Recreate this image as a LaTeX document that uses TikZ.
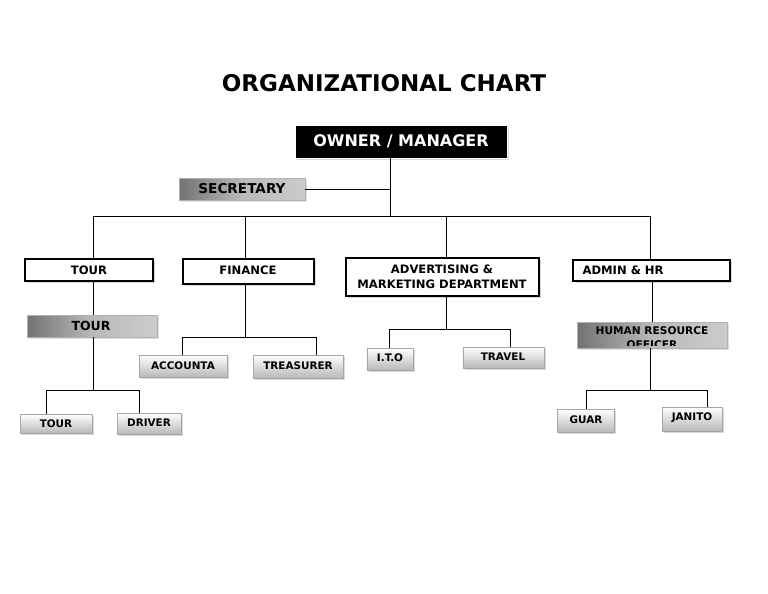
\documentclass[tikz,border=0pt]{standalone}
\usepackage{fontspec}
\setmainfont{DejaVu Sans}
\usetikzlibrary{shadows}
\begin{document}
\begin{tikzpicture}[x=1pt,y=-1pt,
  lbl/.style={font=\bfseries\fontsize{11.6}{14.5}\selectfont},
  sml/.style={font=\bfseries\fontsize{10.4}{12}\selectfont},
  whitebox/.style={draw=black,line width=1.8pt,fill=white,drop shadow={shadow xshift=2pt,shadow yshift=-2pt,fill=gray!60}},
  darkbox/.style={draw=gray!60,line width=0.5pt,left color=gray!90!black,right color=gray!40,middle color=gray!55,drop shadow={shadow xshift=2pt,shadow yshift=-2pt,fill=gray!50}},
  lightbox/.style={draw=gray!70,line width=0.5pt,top color=white,bottom color=gray!55,drop shadow={shadow xshift=2pt,shadow yshift=-2pt,fill=gray!60}},
  conn/.style={line width=0.7pt}]
\useasboundingbox (0,0) rectangle (768,594);
\node (title) at (384,83) {\bfseries\fontsize{23}{26}\selectfont ORGANIZATIONAL CHART};
% boxes
\draw[fill=black,draw=white,line width=1pt,drop shadow={shadow xshift=2pt,shadow yshift=-2pt,fill=gray!60}] (295,125) rectangle (507,158);
\node[text=white,font=\bfseries\fontsize{16}{18}\selectfont] (own) at (401,141.5) {OWNER / MANAGER};
\coordinate (ownb) at (390,158);
\draw[darkbox] (179,178) rectangle (305,200);
\node[font=\bfseries\fontsize{13.6}{15}\selectfont] (sec) at (242,189) {SECRETARY};
\coordinate (secr) at (305,189);
\draw[whitebox] (25,259) rectangle (153,281);
\node[lbl] (tour) at (89,270) {TOUR};
\draw[whitebox] (183,259) rectangle (314,284);
\node[lbl] (fin) at (248,270) {FINANCE};
\draw[whitebox] (346,258) rectangle (539,296);
\node[lbl,align=center] (adv) at (442,277) {ADVERTISING \&\\MARKETING DEPARTMENT};
\draw[whitebox] (573,260) rectangle (730,281);
\node[lbl,anchor=west] (adm) at (579,270.5) {ADMIN \& HR};
\draw[darkbox] (27,315) rectangle (157,337);
\node[font=\bfseries\fontsize{12.5}{14}\selectfont] (tour2) at (91,326) {TOUR};
\draw[darkbox] (577,322) rectangle (727,348);
\begin{scope}
\clip (577,322) rectangle (727,345);
\node[align=center,font=\bfseries\fontsize{10.6}{14}\selectfont,anchor=north] (hr) at (652,323.5) {HUMAN RESOURCE\\OFFICER};
\end{scope}
\draw[lightbox] (20,414) rectangle (92,433); \node[sml] (t3) at (56,424) {TOUR};
\draw[lightbox] (117,413) rectangle (181,434); \node[sml] (drv) at (149,423) {DRIVER};
\draw[lightbox] (139,355) rectangle (227,377); \node[sml] (acc) at (183,365.5) {ACCOUNTA};
\draw[lightbox] (253,355) rectangle (343,378); \node[sml] (tre) at (298,365.5) {TREASURER};
\draw[lightbox] (367,348) rectangle (413,370); \node[sml] (ito) at (390,358) {I.T.O};
\draw[lightbox] (463,347) rectangle (544,368); \node[sml] (trv) at (503,357) {TRAVEL};
\draw[lightbox] (557,409) rectangle (614,432); \node[sml] (gua) at (586,419.5) {GUAR};
\draw[lightbox] (662,407) rectangle (722,431); \node[sml] (jan) at (692,418) {JANITO};
% connectors
\draw[conn] (ownb) -- (390,216);
\draw[conn] (secr) -- (390,189);
\draw[conn] (93,259) -- (93,216) -- (650,216) -- (650,260);
\draw[conn] (245,216) -- (245,259);
\draw[conn] (446,216) -- (446,258);
\draw[conn] (93,281) -- (93,315);
\draw[conn] (93,337) -- (93,390);
\draw[conn] (46,414) -- (46,390) -- (139,390) -- (139,413);
\draw[conn] (245,284) -- (245,337);
\draw[conn] (182,355) -- (182,337) -- (316,337) -- (316,355);
\draw[conn] (446,296) -- (446,329);
\draw[conn] (389,348) -- (389,329) -- (510,329) -- (510,347);
\draw[conn] (652,281) -- (652,322);
\draw[conn] (650,348) -- (650,390);
\draw[conn] (586,409) -- (586,390) -- (707,390) -- (707,407);
\end{tikzpicture}
\end{document}
